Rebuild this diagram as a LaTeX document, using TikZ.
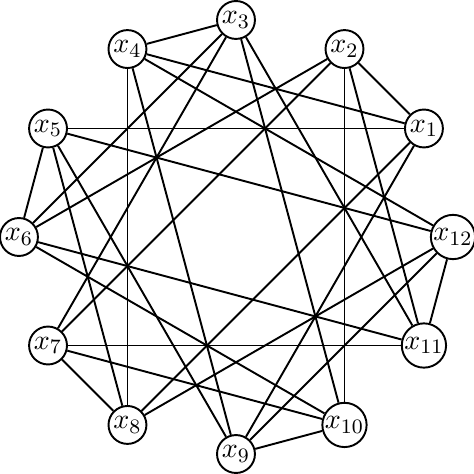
\documentclass[tikz,border=0pt]{standalone}
\usepackage{tikz}

\begin{document}
\begin{tikzpicture}[vertex/.style={draw,circle,fill=white,minimum size=0.52cm,inner sep=0.3pt,
    font=\fontsize{11}{13}\selectfont},
  line width=0.75pt]
  \useasboundingbox (-3.236,-3.25) rectangle (3.264,3.25);
  \foreach \k in {1,...,12}
    \node[vertex] (x\k) at (30*\k:2.976) {$x_{\k}$};
  \foreach \i in {1,3,...,11} {
    \pgfmathtruncatemacro\a{mod(\i,12)+1}
    \pgfmathtruncatemacro\b{mod(\i+2,12)+1}
    \pgfmathtruncatemacro\c{mod(\i+6,12)+1}
    \draw (x\i) -- (x\a);
    \draw (x\i) -- (x\b);
    \draw (x\i) -- (x\c);
  }
  \foreach \i in {1,...,12} {
    \pgfmathtruncatemacro\d{mod(\i+3,12)+1}
    \draw (x\i) -- (x\d);
  }
\end{tikzpicture}
\end{document}
